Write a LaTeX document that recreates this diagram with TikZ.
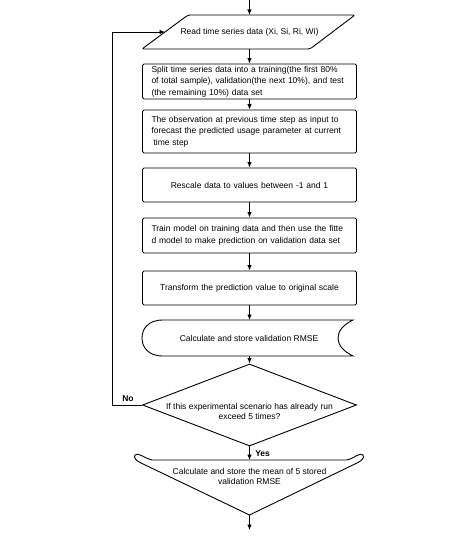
\documentclass[tikz,border=0pt]{standalone}
\usepackage{fontspec}
\setmainfont{Liberation Sans}
\usetikzlibrary{arrows.meta, shapes.geometric}
\begin{document}
\begin{tikzpicture}[x=1pt, y=-1pt, >={Latex[length=5.5pt, width=4.5pt]}, line width=0.9pt,
    flow/.style={font=\fontsize{8.5}{11.5}\selectfont},
    procbox/.style={flow, draw, rounded corners=1.5pt, minimum width=214pt,
      text width=196pt, align=left, inner sep=0pt},
    tag/.style={font=\fontsize{8.5}{10}\selectfont\bfseries}]

  \useasboundingbox (0,0) rectangle (474,540);

  % input: parallelogram
  \draw[rounded corners=2pt] (142,49) -- (188,15) -- (355,15) -- (310,49) -- cycle;
  \node[flow] (read) at (249.5,32) {Read time series data (Xi, Si, Ri, Wi)};
  \coordinate (start) at (249.5,0);
  \coordinate (readN) at (249.5,15);
  \coordinate (readS) at (249.5,49);
  \coordinate (readW) at (165,32);

  % process boxes
  \node[procbox, minimum height=35pt] (split) at (249.5,81.5)
    {Split time series data into a training(the first 80\%\\
     of total sample), validation(the next 10\%), and test\\
     (the remaining 10\%) data set};
  \node[procbox, minimum height=43pt] (observe) at (249.5,131.5)
    {The observation at previous time step as input to\\
     forecast the predicted usage parameter at current\\
     \hspace*{2pt}time step};
  \node[procbox, align=center, minimum height=34pt] (rescale) at (249.5,185)
    {Rescale data to values between -1 and 1};
  \node[procbox, minimum height=35pt] (train) at (249.5,235.5)
    {Train model on training data and then use the fitte\\
     d model to make prediction on validation data set};
  \node[procbox, align=center, minimum height=34pt] (transform) at (249.5,288)
    {Transform the prediction value to original scale};

  % stored data
  \draw (163,320) -- (353,320)
    .. controls (343,325) and (338,331) .. (338,338)
    .. controls (338,345) and (343,351) .. (353,356)
    -- (163,356)
    .. controls (148,356) and (142,347) .. (142,338)
    .. controls (142,329) and (148,320) .. (163,320) -- cycle;
  \node[flow] (store) at (249,338) {Calculate and store validation RMSE};
  \coordinate (storeN) at (249.5,320);
  \coordinate (storeS) at (249.5,356);

  % decision
  \node[draw, diamond, minimum width=214pt, minimum height=82pt, inner sep=0pt]
    (check) at (249.5,405) {};
  \node[flow, align=center, font=\fontsize{8.5}{10}\selectfont] (checktext) at (249.5,411)
    {If this experimental scenario has already run\\exceed 5 times?};

  % final step with curled ends
  \draw (152,460) -- (347,460)
    .. controls (355,458) and (360,452) .. (363,455)
    .. controls (365,458) and (361,461) .. (357,463)
    -- (249.5,515) -- (141,463)
    .. controls (137,461) and (133,458) .. (135,455)
    .. controls (138,452) and (144,458) .. (152,460) -- cycle;
  \node[flow, align=center, font=\fontsize{8.5}{10}\selectfont] (mean) at (249.5,476)
    {Calculate and store the mean of 5 stored\\validation RMSE};
  \coordinate (meanN) at (249.5,460);
  \coordinate (meanS) at (249.5,515);
  \coordinate (finish) at (249.5,530);

  % connectors
  \draw[->] (start) -- (readN);
  \draw[->] (readS) -- (split.north);
  \draw[->] (split.south) -- (observe.north);
  \draw[->] (observe.south) -- (rescale.north);
  \draw[->] (rescale.south) -- (train.north);
  \draw[->] (train.south) -- (transform.north);
  \draw[->] (transform.south) -- (storeN);
  \draw[->] (storeS) -- (check.north);
  \draw[->] (check.south) -- (meanN) node[tag, midway, right=2pt] {Yes};
  \draw[->] (meanS) -- (finish);

  % loop back
  \coordinate (loopx) at (112,0);
  \draw[->] (check.west) -- (loopx |- check.west) |- (readW);
  \node[tag] (no) at (128,399) {No};

\end{tikzpicture}
\end{document}
